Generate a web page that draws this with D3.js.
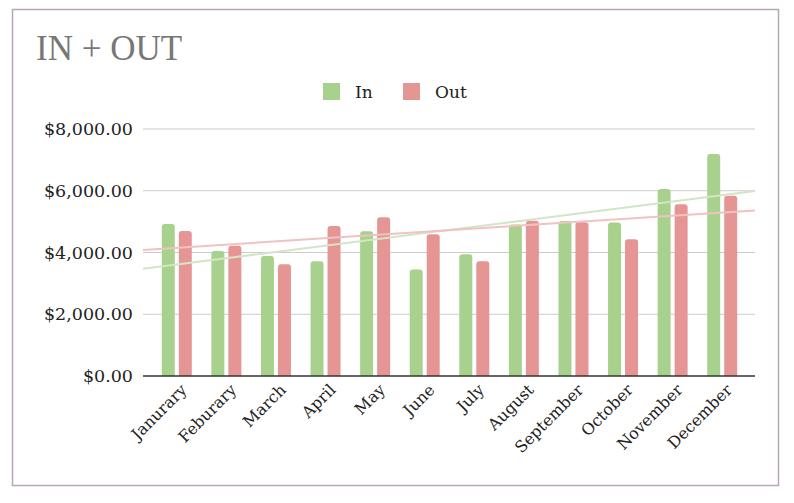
<!DOCTYPE html>
<html>
<head>
<meta charset="utf-8">
<script src="https://cdn.jsdelivr.net/npm/d3@7"></script>
<style>
  body { margin: 0; background: #fff; }
  svg text { font-family: "DejaVu Serif", serif; fill: #222; }
</style>
</head>
<body>
<svg id="chart"></svg>
<script>
const width = 794, height = 503;

const months = ["Janurary", "Feburary", "March", "April", "May", "June",
  "July", "August", "September", "October", "November", "December"];
const inValues = [4920, 4050, 3890, 3720, 4690, 3450, 3940, 4910, 5020, 4970, 6060, 7190];
const outValues = [4700, 4220, 3620, 4860, 5140, 4590, 3720, 5030, 4980, 4430, 5560, 5840];
const yTicks = [0, 2000, 4000, 6000, 8000];

const colIn = "#a9d18e", colOut = "#e69595";

let svg = d3.select("#chart").attr("width", width).attr("height", height);

// outer frame
svg.append("rect")
  .attr("x", 12.5).attr("y", 9.5)
  .attr("width", 766).attr("height", 476)
  .attr("fill", "#fff")
  .attr("stroke", "#b8a5b8").attr("stroke-width", 1.5);

svg.append("text")
  .attr("x", 36).attr("y", 60)
  .style("font-family", "'Liberation Serif', serif")
  .style("font-size", "35px")
  .style("fill", "#777")
  .text("IN + OUT");

const gridLeft = 143, gridRight = 755;

const x = d3.scaleBand().domain(months).range([152, 747]);
const y = d3.scaleLinear().domain([0, 8000]).range([376, 129]);

// gridlines + y labels
svg.append("g").selectAll("line")
  .data(yTicks.filter(d => d > 0))
  .join("line")
  .attr("x1", gridLeft).attr("x2", gridRight)
  .attr("y1", d => y(d)).attr("y2", d => y(d))
  .attr("stroke", "#ccc").attr("stroke-width", 1);

svg.append("g").selectAll("text")
  .data(yTicks)
  .join("text")
  .attr("x", 133).attr("y", d => y(d))
  .attr("dy", "0.35em")
  .attr("text-anchor", "end")
  .style("font-size", "17.5px")
  .text(d => "$" + d3.format(",.2f")(d));

// bars with rounded tops
const barW = 13, gap = 4;
function barPath(x0, top, w, bottom) {
  const r = Math.min(3, (bottom - top));
  return `M${x0},${bottom}V${top + r}Q${x0},${top} ${x0 + r},${top}H${x0 + w - r}Q${x0 + w},${top} ${x0 + w},${top + r}V${bottom}Z`;
}

const series = [
  { name: "In", values: inValues, color: colIn, offset: -gap / 2 - barW },
  { name: "Out", values: outValues, color: colOut, offset: gap / 2 }
];

series.forEach(s => {
  svg.append("g").selectAll("path")
    .data(s.values)
    .join("path")
    .attr("d", (v, i) => {
      const cx = x(months[i]) + x.bandwidth() / 2;
      return barPath(cx + s.offset, y(v), barW, y(0));
    })
    .attr("fill", s.color);
});

// linear trendlines
function regression(vals) {
  const mx = d3.mean(vals, (v, i) => i), my = d3.mean(vals);
  let sxy = 0, sxx = 0;
  vals.forEach((v, i) => { sxy += (i - mx) * (v - my); sxx += (i - mx) * (i - mx); });
  const slope = sxy / sxx;
  return i => my + slope * (i - mx);
}
const idxAt = px => (px - (x(months[0]) + x.bandwidth() / 2)) / x.step();

[{ vals: inValues, color: "#d2e5c7" }, { vals: outValues, color: "#f0c2c2" }].forEach(t => {
  const f = regression(t.vals);
  svg.append("line")
    .attr("x1", gridLeft).attr("x2", gridRight)
    .attr("y1", y(f(idxAt(gridLeft)))).attr("y2", y(f(idxAt(gridRight))))
    .attr("stroke", t.color).attr("stroke-width", 2);
});

// baseline
svg.append("line")
  .attr("x1", gridLeft).attr("x2", gridRight)
  .attr("y1", y(0)).attr("y2", y(0))
  .attr("stroke", "#333").attr("stroke-width", 1.5);

// x labels
svg.append("g").selectAll("text")
  .data(months)
  .join("text")
  .attr("transform", d => `translate(${x(d) + x.bandwidth() / 2 + 7},${387}) rotate(-45)`)
  .attr("text-anchor", "end")
  .attr("dy", "0.35em")
  .style("font-size", "16px")
  .text(d => d);

// legend
const legend = [{ name: "In", color: colIn, x: 323 }, { name: "Out", color: colOut, x: 403 }];
const lg = svg.append("g").selectAll("g").data(legend).join("g");
lg.append("rect")
  .attr("x", d => d.x).attr("y", 83)
  .attr("width", 17).attr("height", 17)
  .attr("fill", d => d.color);
lg.append("text")
  .attr("x", d => d.x + 32).attr("y", 92)
  .attr("dy", "0.35em")
  .style("font-size", "17px")
  .text(d => d.name);
</script>
</body>
</html>
